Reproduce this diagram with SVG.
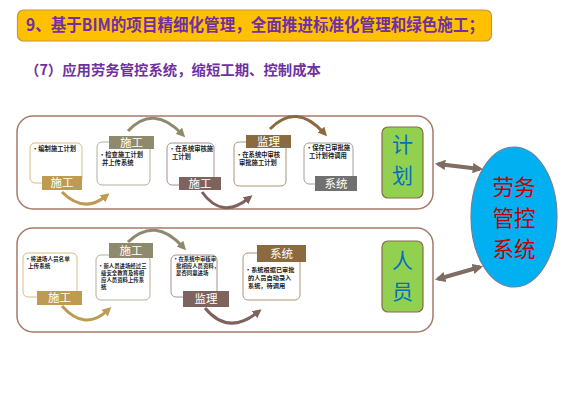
<svg xmlns="http://www.w3.org/2000/svg" width="568" height="402" viewBox="0 0 568 402">
<style>
text{font-family:"Noto Sans CJK SC","Noto Sans",sans-serif}
.frame{fill:#fff;stroke:#A8786A;stroke-width:1.5}
.box{fill:#fff;stroke-width:1}
.lbl{fill:#fff;font-size:11.5px;text-anchor:middle}
.body{fill:#222;font-weight:bold}
.arc{fill:none;stroke-width:3}
.g{fill:#92D050;stroke:#8A6A48;stroke-width:1.2}
.gt{fill:#0070C0;font-size:21px;text-anchor:middle}
.st{fill:#C00000;font-size:21.5px;text-anchor:middle}
</style>
<defs>
<marker id="aGold" viewBox="0 0 10 10" refX="5" refY="5" markerWidth="3" markerHeight="3" orient="auto" markerUnits="strokeWidth"><path d="M0,0L10,5L0,10z" fill="#BF9B52"/></marker>
<marker id="aOlive" viewBox="0 0 10 10" refX="5" refY="5" markerWidth="3" markerHeight="3" orient="auto" markerUnits="strokeWidth"><path d="M0,0L10,5L0,10z" fill="#8F8A6E"/></marker>
<marker id="aMauve" viewBox="0 0 10 10" refX="5" refY="5" markerWidth="3" markerHeight="3" orient="auto" markerUnits="strokeWidth"><path d="M0,0L10,5L0,10z" fill="#7E625E"/></marker>
<marker id="aBrown" viewBox="0 0 10 10" refX="5" refY="5" markerWidth="3" markerHeight="3" orient="auto" markerUnits="strokeWidth"><path d="M0,0L10,5L0,10z" fill="#8C6A3F"/></marker>
<marker id="aDbl" viewBox="0 0 10 10" refX="7" refY="5" markerWidth="2.6" markerHeight="2.6" orient="auto-start-reverse" markerUnits="strokeWidth"><path d="M0,0L10,5L0,10z" fill="#7F6D64"/></marker>
</defs>
<rect width="568" height="402" fill="#fff"/>
<g id="title">
<rect x="17.5" y="10" width="474" height="31" rx="6" fill="#FFC000" stroke="#C8963C" stroke-width="1.2"/>
<text x="26" y="31" font-size="16.5" font-weight="bold" fill="#7030A0" textLength="458" lengthAdjust="spacingAndGlyphs">9、基于BIM的项目精细化管理，全面推进标准化管理和绿色施工；</text>
</g>
<g id="subtitle">
<text x="25" y="75" font-size="14" font-weight="bold" fill="#7030A0" textLength="296" lengthAdjust="spacingAndGlyphs">（7）应用劳务管控系统，缩短工期、控制成本</text>
</g>
<g id="frame-plan"><rect class="frame" x="17" y="116" width="416" height="93" rx="16"/></g>
<g id="frame-staff"><rect class="frame" x="17" y="228" width="416" height="104" rx="16"/></g>

<g id="connectors">
<path class="arc" stroke="#BF9B52" d="M62,192 Q84,214 106,196" marker-end="url(#aGold)"/>
<path class="arc" stroke="#8F8A6E" d="M128,131 Q153,104 182,134" marker-end="url(#aOlive)"/>
<path class="arc" stroke="#7E625E" d="M202,192 Q222,220 249,198" marker-end="url(#aMauve)"/>
<path class="arc" stroke="#8C6A3F" d="M270,129 Q296,102 324,133" marker-end="url(#aBrown)"/>
<path class="arc" stroke="#BF9B52" d="M62,306 Q85,332 108,310" marker-end="url(#aGold)"/>
<path class="arc" stroke="#8F8A6E" d="M128,242 Q155,216 183,247" marker-end="url(#aOlive)"/>
<path class="arc" stroke="#7E625E" d="M205,308 Q228,336 258,312" marker-end="url(#aMauve)"/>
<line x1="438" y1="164" x2="480" y2="169" stroke="#7F6D64" stroke-width="4" marker-start="url(#aDbl)" marker-end="url(#aDbl)"/>
<line x1="438" y1="279" x2="480" y2="267" stroke="#7F6D64" stroke-width="4" marker-start="url(#aDbl)" marker-end="url(#aDbl)"/>
</g>

<g id="p1">
<rect class="box" x="30" y="143" width="52" height="40" rx="5" stroke="#D6BC86"/>
<text class="body" font-size="6.3" x="32" y="151">•编制施工计划</text>
<rect x="42" y="176" width="40" height="14" fill="#BF9B52"/>
<text class="lbl" x="62" y="187">施工</text>
</g>
<g id="p2">
<rect class="box" x="97" y="142" width="53" height="43" rx="5" stroke="#B4B09C"/>
<text class="body" font-size="6.3" x="99" y="157">•检查施工计划</text>
<text class="body" font-size="6.3" x="102" y="165">并上传系统</text>
<rect x="109" y="136" width="45" height="13" fill="#8F8A6E"/>
<text class="lbl" x="131.5" y="146.5">施工</text>
</g>
<g id="p3">
<rect class="box" x="167" y="143" width="47" height="42" rx="5" stroke="#A89290"/>
<text class="body" font-size="6.3" x="169" y="151">•在系统审核施</text>
<text class="body" font-size="6.3" x="172" y="159">工计划</text>
<rect x="179" y="177" width="42" height="13" fill="#7E625E"/>
<text class="lbl" x="200" y="187.5">施工</text>
</g>
<g id="p4">
<rect class="box" x="234" y="142" width="52" height="44" rx="5" stroke="#B09474"/>
<text class="body" font-size="6.3" x="236" y="157">•在系统中审核</text>
<text class="body" font-size="6.3" x="239" y="165">审批施工计划</text>
<rect x="246" y="135" width="45" height="13" fill="#8C6A3F"/>
<text class="lbl" x="268.5" y="145.5">监理</text>
</g>
<g id="p5">
<rect class="box" x="304" y="143" width="49" height="41" rx="5" stroke="#A0A0A0"/>
<text class="body" font-size="6.3" x="306" y="150">•保存已审批施</text>
<text class="body" font-size="6.3" x="309" y="158">工计划待调用</text>
<rect x="315" y="176" width="42" height="15" fill="#707070"/>
<text class="lbl" x="336" y="187.5">系统</text>
</g>
<g id="plan">
<rect class="g" x="382" y="127" width="41" height="71" rx="6"/>
<text class="gt" x="402.5" y="152">计</text>
<text class="gt" x="402.5" y="183">划</text>
</g>

<g id="s1">
<rect class="box" x="23" y="253" width="54" height="44" rx="5" stroke="#D6BC86"/>
<text class="body" font-size="5.6" x="25" y="261">•将进场人员名单</text>
<text class="body" font-size="5.6" x="28" y="268">上传系统</text>
<rect x="37" y="291" width="45" height="14" fill="#BF9B52"/>
<text class="lbl" x="59.5" y="302">施工</text>
</g>
<g id="s2">
<rect class="box" x="96" y="255" width="54" height="45" rx="5" stroke="#B4B09C"/>
<text class="body" font-size="5.4" x="98" y="268">•新人员进场经过三</text>
<text class="body" font-size="5.4" x="101" y="275">级安全教育及将相</text>
<text class="body" font-size="5.4" x="101" y="282">应人员资料上传系</text>
<text class="body" font-size="5.4" x="101" y="289">统</text>
<rect x="109" y="243" width="44" height="15" fill="#8F8A6E"/>
<text class="lbl" x="131" y="254.5">施工</text>
</g>
<g id="s3">
<rect class="box" x="171" y="255" width="46" height="42" rx="5" stroke="#A89290"/>
<text class="body" font-size="5.4" x="173" y="261">•在系统中审核审</text>
<text class="body" font-size="5.4" x="176" y="268">批相应人员资料，</text>
<text class="body" font-size="5.4" x="176" y="275">是否同意进场</text>
<rect x="183" y="291" width="46" height="16" fill="#7E625E"/>
<text class="lbl" x="206" y="303">监理</text>
</g>
<g id="s4">
<rect class="box" x="243" y="253" width="57" height="47" rx="5" stroke="#B09474"/>
<text class="body" font-size="6.2" x="245" y="272">•系统根据已审批</text>
<text class="body" font-size="6.2" x="248" y="280">的人员自动录入</text>
<text class="body" font-size="6.2" x="248" y="288">系统，待调用</text>
<rect x="257" y="245" width="49" height="17" fill="#8C6A3F"/>
<text class="lbl" x="281.5" y="257.5">系统</text>
</g>
<g id="staff">
<rect class="g" x="382" y="241" width="41" height="71" rx="6"/>
<text class="gt" x="402.5" y="268">人</text>
<text class="gt" x="402.5" y="299">员</text>
</g>

<g id="system">
<ellipse cx="514" cy="217" rx="43" ry="70" fill="#00B0F0" stroke="#6E7F9E" stroke-width="1.2"/>
<text class="st" x="514" y="195">劳务</text>
<text class="st" x="514" y="226">管控</text>
<text class="st" x="514" y="257">系统</text>
</g>
</svg>
